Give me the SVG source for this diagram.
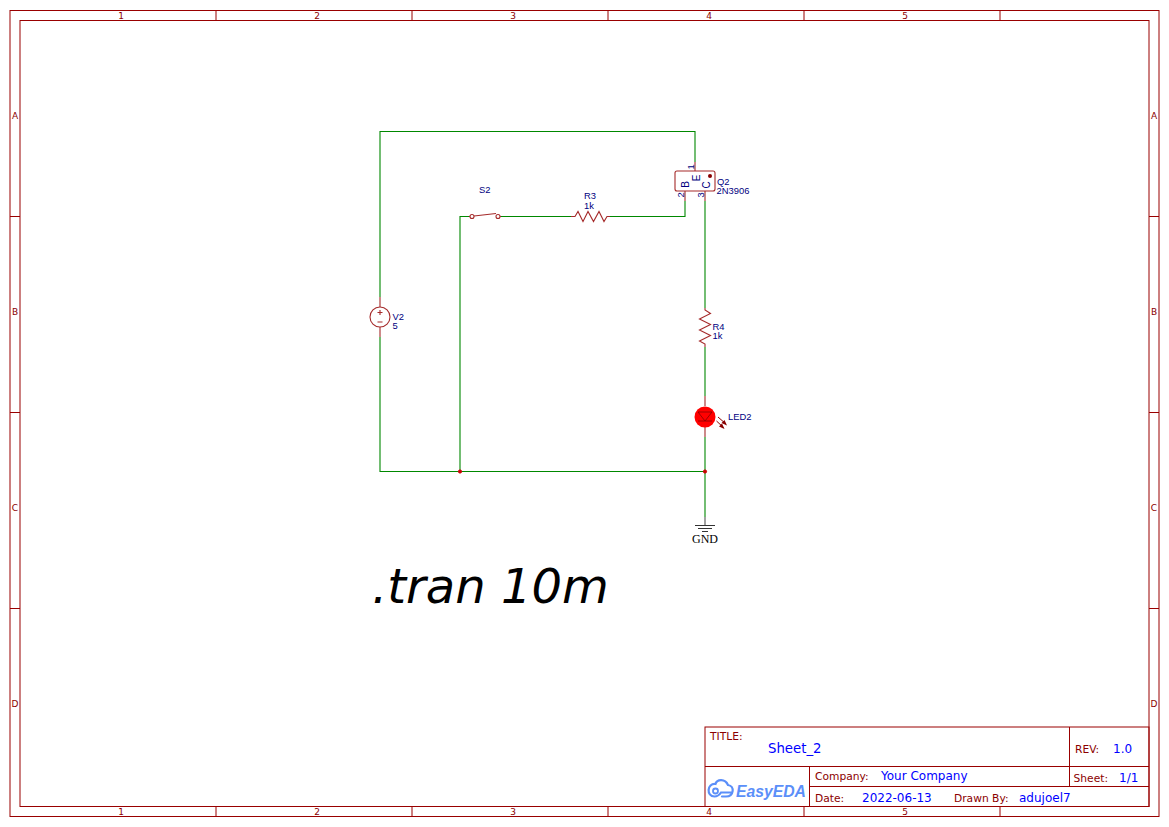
<svg xmlns="http://www.w3.org/2000/svg" width="1169" height="827" viewBox="0 0 1169 827">
<style>
.f{fill:none;stroke:#990000;stroke-width:1}
.p{fill:none;stroke:#A52A2A;stroke-width:1.100}
.w{fill:none;stroke:#008800;stroke-width:1.100}
.d{fill:#CC0000;stroke:#CC0000}
.t{font-family:"DejaVu Sans",sans-serif;font-size:9px;fill:#8B0000;text-anchor:middle}
.l{font-family:"DejaVu Sans",sans-serif;font-size:10.700px;fill:#8B0000}
.v{font-family:"DejaVu Sans",sans-serif;font-size:12px;fill:#0000FF}
.n{font-family:"Liberation Sans",Arial,sans-serif;font-size:9.400px;fill:#000080}
.r{text-anchor:middle}
</style>
<rect width="1169" height="827" fill="#FFFFFF"/>
<g id="frame">
<rect class="f" x="10" y="10.5" width="1149" height="806"/>
<rect class="f" x="20" y="20.5" width="1129" height="786"/>
<path class="f" d="M216 10.500V20.500M412 10.500V20.500M608 10.500V20.500M804 10.500V20.500M1000 10.500V20.500M216 806.500V816.500M412 806.500V816.500M608 806.500V816.500M804 806.500V816.500M1000 806.500V816.500M10 216.500H20M10 412.500H20M10 608.500H20M1149 216.500H1159M1149 412.500H1159M1149 608.500H1159"/>
<text class="t" x="121" y="19">1</text><text class="t" x="317" y="19">2</text><text class="t" x="513" y="19">3</text><text class="t" x="709" y="19">4</text><text class="t" x="905" y="19">5</text>
<text class="t" x="121" y="815">1</text><text class="t" x="317" y="815">2</text><text class="t" x="513" y="815">3</text><text class="t" x="709" y="815">4</text><text class="t" x="905" y="815">5</text>
<text class="t" x="15" y="119">A</text><text class="t" x="15" y="315">B</text><text class="t" x="15" y="511">C</text><text class="t" x="15" y="707">D</text>
<text class="t" x="1154" y="119">A</text><text class="t" x="1154" y="315">B</text><text class="t" x="1154" y="511">C</text><text class="t" x="1154" y="707">D</text>
</g>
<g id="title-block">
<rect class="f" x="705" y="727" width="444" height="79.500"/>
<path class="f" d="M705 766.500H1149M810 786.500H1149M809.500 766.500V806.500M1069.500 727V786.500"/>
<text class="l" x="710" y="739.500">TITLE:</text>
<text x="768" y="752.500" style="font-family:'DejaVu Sans',sans-serif;font-size:13.300px;fill:#0000FF">Sheet_2</text>
<text class="l" x="1075" y="752.500">REV:</text><text class="v" x="1113" y="753">1.0</text>
<text class="l" x="815" y="780">Company:</text><text class="v" x="881" y="780">Your Company</text>
<text class="l" x="1073.500" y="781.500">Sheet:</text><text class="v" x="1119" y="782">1/1</text>
<text class="l" x="815" y="801.500">Date:</text><text class="v" x="862" y="802">2022-06-13</text>
<text class="l" x="954" y="801.500">Drawn By:</text><text class="v" x="1019" y="802">adujoel7</text>
<path d="M722 796.500H726C734 796.500 735 786 728 785C725 778.500 717 779 715.500 784C707 783 706 796.500 714.500 796.500C718 796.500 720 794 721 792.500H731" fill="none" stroke="#5B8FF9" stroke-width="2.200" stroke-linecap="round"/>
<circle cx="715.500" cy="791" r="2.500" fill="none" stroke="#5B8FF9" stroke-width="1.800"/>
<text x="736" y="796.500" textLength="70" lengthAdjust="spacingAndGlyphs" style="font-family:'Liberation Sans',sans-serif;font-size:17px;font-weight:bold;font-style:italic;fill:#5B8FF9">EasyEDA</text>
</g>
<g id="connectors">
<path class="w" d="M380 297V131.500H695V162"/>
<path class="w" d="M380 337V471.500H705"/>
<path class="w" d="M460 471.500V216.500H469"/>
<path class="w" d="M501 216.500H571"/>
<path class="w" d="M610 216.500H685V201"/>
<path class="w" d="M705 201V308"/>
<path class="w" d="M705 347V396"/>
<path class="w" d="M705 437V517"/>
<circle class="d" cx="460" cy="471.500" r="1.600"/>
<circle class="d" cx="705" cy="471.500" r="1.600"/>
</g>
<g id="V2">
<circle class="p" cx="380" cy="317" r="10"/>
<path class="p" d="M380 307V297M380 327V337M377.500 312.500H382.500M380 310V315M377.500 322H382.500"/>
<text class="n" x="392.500" y="320">V2</text><text class="n" x="392.500" y="329">5</text>
</g>
<g id="S2">
<circle class="p" cx="472" cy="216.500" r="2"/><circle class="p" cx="498" cy="216.500" r="2"/>
<path class="p" d="M469 216.500H470M474 216L496 213.500M500 216.500H501"/>
<text class="n" x="479" y="193">S2</text>
</g>
<g id="R3">
<path class="p" d="M571 216.500H575L578 211.500L583 221.500L588 211.500L593.500 221.500L599 211.500L604 221.500L607 216.500H610"/>
<text class="n r" x="590" y="199">R3</text><text class="n r" x="589" y="208.500">1k</text>
</g>
<g id="Q2">
<rect x="675" y="171" width="40" height="20" rx="2" ry="2" fill="#FFFFFF" stroke="#A52A2A" stroke-width="1.100"/>
<path class="p" d="M695 162V171M685 191V201M705 191V201"/>
<circle cx="710" cy="176" r="2" fill="#880000"/>
<text class="n r" style="font-size:10px" transform="translate(689 184.500) rotate(-90)">B</text>
<text class="n r" style="font-size:10px" transform="translate(699.500 178) rotate(-90)">E</text>
<text class="n r" style="font-size:10px" transform="translate(709.500 185) rotate(-90)">C</text>
<text class="n r" transform="translate(693.500 167) rotate(-90)">1</text>
<text class="n r" transform="translate(683.500 195) rotate(-90)">2</text>
<text class="n r" transform="translate(703.500 195) rotate(-90)">3</text>
<text class="n" x="717" y="185">Q2</text><text class="n" x="716.500" y="194">2N3906</text>
</g>
<g id="R4">
<path class="p" d="M705 308V310L710.500 313.500L699.500 319L710.500 324.500L699.500 330L710.500 335.500L699.500 341L705 344V347"/>
<text class="n" x="712.500" y="330">R4</text><text class="n" x="712.500" y="339">1k</text>
</g>
<g id="LED2">
<path class="p" d="M705 396V406M705 427V437"/>
<circle cx="705" cy="417" r="10.500" fill="#FF0000"/>
<path d="M698 412H712L705 421ZM698 421H712" fill="none" stroke="#880000" stroke-width="0.800"/>
<path d="M718 417L726 424M716.500 421L723.500 427.500" fill="none" stroke="#880000" stroke-width="1"/>
<path d="M721.500 423L727 425.500L724.500 420ZM719 426.500L724.500 429L722 423.500Z" fill="#880000"/>
<text class="n" x="728" y="420">LED2</text>
</g>
<g id="GND">
<path d="M705 517V526" fill="none" stroke="#555555" stroke-width="1.100"/>
<path d="M695 525.500H715M698 528.500H712M702 531.500H708" fill="none" stroke="#333333" stroke-width="1"/>
<text x="705" y="543" text-anchor="middle" style="font-family:'Liberation Serif',serif;font-size:12px;fill:#000000">GND</text>
</g>
<text x="372" y="603" style="font-family:'DejaVu Sans',sans-serif;font-size:48px;font-style:italic;fill:#000000">.tran 10m</text>
</svg>
